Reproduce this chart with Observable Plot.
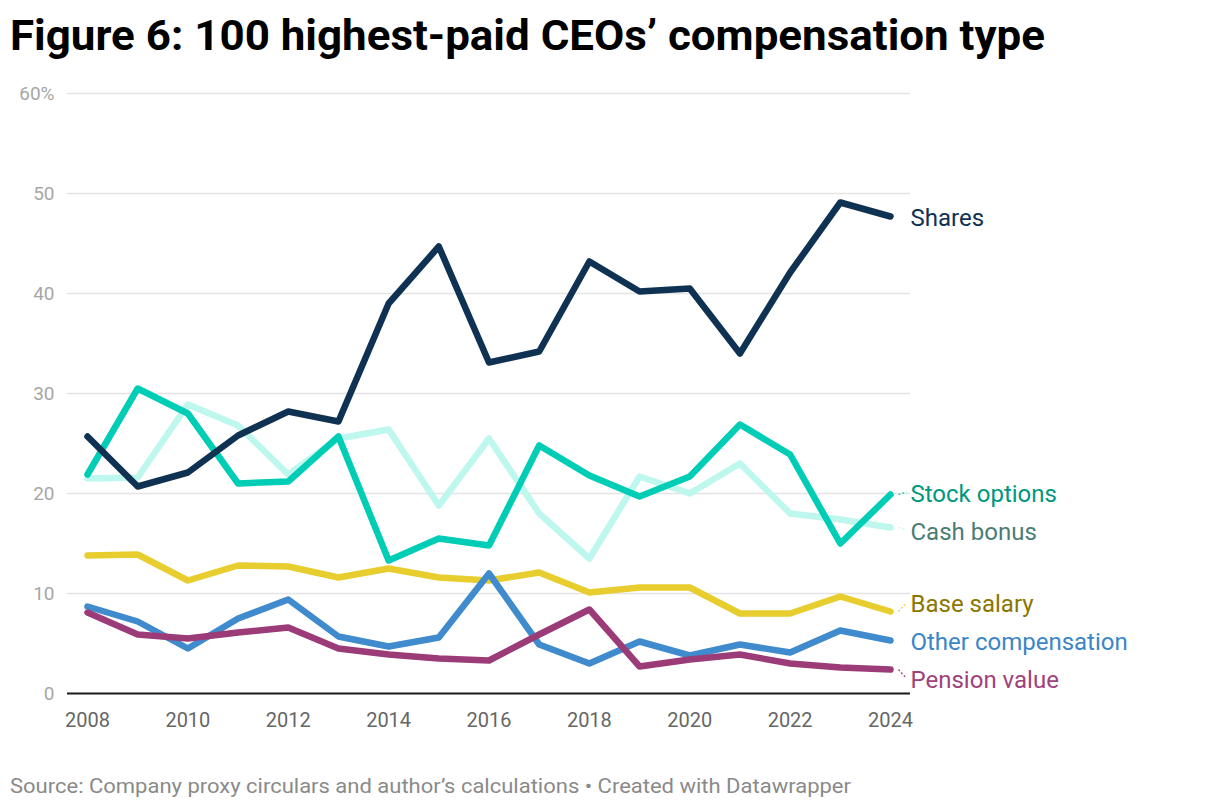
<!DOCTYPE html>
<html>
<head>
<meta charset="utf-8">
<script src="https://cdn.jsdelivr.net/npm/d3@7"></script>
<script src="https://cdn.jsdelivr.net/npm/@observablehq/plot@0.6"></script>
<style>
  body { margin: 0; background: #fff; font-family: Roboto, "Noto Sans", sans-serif; }
  #wrap { position: relative; width: 1220px; height: 810px; overflow: hidden; }
  #title { position: absolute; left: 10px; top: 15px; font-size: 42px; line-height: 1; font-weight: 700; color: #000; white-space: nowrap; transform-origin: left top; }
  #chart { position: absolute; left: 0; top: 70px; }
  #caption { position: absolute; left: 10px; top: 776px; font-size: 20px; line-height: 1; color: #8a8a8a; white-space: nowrap; transform-origin: left top; }
</style>
</head>
<body>
<div id="wrap">
  <div id="title">Figure 6: 100 highest-paid CEOs’ compensation type</div>
  <div id="chart"></div>
  <div id="caption">Source: Company proxy circulars and author’s calculations • Created with Datawrapper</div>
</div>
<script>
// Share of total pay (%) by compensation type, 2008–2024
const years = [2008, 2009, 2010, 2011, 2012, 2013, 2014, 2015, 2016, 2017, 2018, 2019, 2020, 2021, 2022, 2023, 2024];

const shares            = [25.7, 20.7, 22.1, 25.8, 28.2, 27.2, 39.0, 44.7, 33.1, 34.2, 43.2, 40.2, 40.5, 34.0, 42.1, 49.1, 47.7];
const stockOptions      = [21.9, 30.5, 28.0, 21.0, 21.2, 25.7, 13.3, 15.5, 14.8, 24.8, 21.8, 19.7, 21.7, 26.9, 23.9, 15.0, 19.9];
const cashBonus         = [21.5, 21.6, 28.9, 26.8, 21.9, 25.5, 26.4, 18.8, 25.5, 18.0, 13.5, 21.7, 20.0, 23.0, 18.0, 17.4, 16.6];
const baseSalary        = [13.8, 13.9, 11.3, 12.8, 12.7, 11.6, 12.5, 11.6, 11.3, 12.1, 10.1, 10.6, 10.6, 8.0, 8.0, 9.7, 8.2];
const otherCompensation = [8.7, 7.2, 4.5, 7.5, 9.4, 5.7, 4.7, 5.6, 12.0, 4.9, 3.0, 5.2, 3.8, 4.9, 4.1, 6.3, 5.3];
const pensionValue      = [8.1, 5.9, 5.5, 6.1, 6.6, 4.5, 3.9, 3.5, 3.3, 5.9, 8.4, 2.7, 3.4, 3.9, 3.0, 2.6, 2.4];

// Series in drawing order (later ones sit on top)
const seriesNames  = ["Cash bonus", "Base salary", "Other compensation", "Pension value", "Stock options", "Shares"];
const seriesValues = [cashBonus, baseSalary, otherCompensation, pensionValue, stockOptions, shares];
const lineColors   = ["#bdf7ee", "#e8cd2f", "#3f8bcd", "#9b3c78", "#00cdb6", "#0f3253"];
const labelColors  = ["#4a7d76", "#8c7600", "#3a86c8", "#a0417b", "#00977f", "#0f3253"];

const yTicks = [0, 10, 20, 30, 40, 50, 60];
const xTicks = [2008, 2010, 2012, 2014, 2016, 2018, 2020, 2022, 2024];

// Long table for the line mark
const rows = seriesNames.flatMap((name, i) =>
  years.map((year, j) => ({series: name, year, value: seriesValues[i][j], color: lineColors[i]}))
);

// End-of-line labels, nudged apart so they do not collide
const ends = seriesNames.map((name, i) => ({
  series: name,
  v: seriesValues[i][years.length - 1],
  color: labelColors[i],
  lineColor: lineColors[i]
}));

function spreadLabels(items, gap) {
  const sorted = items.slice().sort((a, b) => a.v - b.v);
  const groups = sorted.map(d => ({members: [d]}));
  const place = g => {
    const mean = d3.mean(g.members, d => d.v);
    g.lo = mean - gap * (g.members.length - 1) / 2;
    g.hi = g.lo + gap * (g.members.length - 1);
  };
  groups.forEach(place);
  let merged = true;
  while (merged) {
    merged = false;
    for (let i = 0; i < groups.length - 1; i++) {
      if (groups[i + 1].lo - groups[i].hi < gap) {
        groups[i].members.push(...groups[i + 1].members);
        groups.splice(i + 1, 1);
        place(groups[i]);
        merged = true;
        break;
      }
    }
  }
  groups.forEach(g => g.members.forEach((d, j) => { d.labelV = g.lo + gap * j; }));
}
spreadLabels(ends, 3.8);
// Connectors only for labels that were moved off their line end
const moved = ends.filter(d => Math.abs(d.labelV - d.v) > 1e-9);

const W = 1220, H = 680;
const mLeft = 87, mRight = 330, mTop = 23, mBottom = 57;
const lastYear = years[years.length - 1];
const pxPerYear = (W - mLeft - mRight) / (lastYear - years[0]);

const chart = Plot.plot({
  width: W,
  height: H,
  marginLeft: mLeft,
  marginRight: mRight,
  marginTop: mTop,
  marginBottom: mBottom,
  style: {fontFamily: "Roboto, sans-serif", background: "#fff", overflow: "visible"},
  x: {domain: [years[0], lastYear]},
  y: {domain: [0, 60]},
  color: {type: "identity"},
  marks: [
    Plot.ruleY(yTicks.filter(d => d > 0), {stroke: "#e4e4e4", strokeWidth: 1.5, insetLeft: -20, insetRight: -20}),
    Plot.axisY({
      ticks: yTicks, tickSize: 0, tickPadding: 33, label: null,
      tickFormat: d => d === 60 ? "60%" : String(d),
      fontSize: 19, color: "#a6a6a6"
    }),
    Plot.axisX({
      ticks: xTicks, tickSize: 0, tickPadding: 19, label: null,
      tickFormat: d => String(d),
      fontSize: 20, color: "#666"
    }),
    Plot.ruleY([0], {stroke: "#1a1a1a", strokeWidth: 2, insetLeft: -20, insetRight: -20}),
    Plot.line(rows, {
      x: "year", y: "value", z: "series", stroke: "color",
      strokeWidth: 6.5, strokeLinejoin: "round", strokeLinecap: "round"
    }),
    Plot.link(moved, {
      x1: () => lastYear + 8 / pxPerYear, y1: "v",
      x2: () => lastYear + 16 / pxPerYear, y2: "labelV",
      stroke: "lineColor", strokeWidth: 1.2, strokeDasharray: "2,2"
    }),
    Plot.text(ends, {
      x: () => lastYear, y: "labelV", text: "series", fill: "color",
      textAnchor: "start", dx: 20, dy: 2, fontSize: 24
    })
  ]
});
document.getElementById("chart").appendChild(chart);

// Fit title and source line to their set widths
function fitWidth(id, target) {
  const el = document.getElementById(id);
  const w = el.getBoundingClientRect().width;
  if (w > 0) el.style.transform = `scaleX(${target / w})`;
}
fitWidth("title", 1035);
fitWidth("caption", 841);
</script>
</body>
</html>
